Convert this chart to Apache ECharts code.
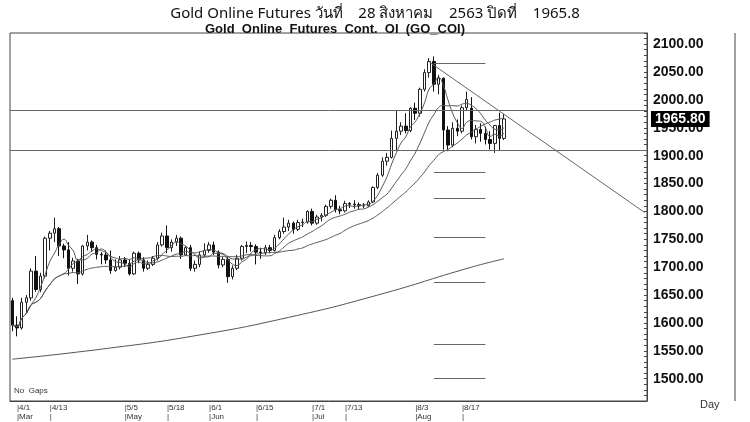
<!DOCTYPE html>
<html>
<head>
<meta charset="utf-8">
<script src="https://cdn.jsdelivr.net/npm/echarts@6/dist/echarts.min.js"></script>
<style>html,body{margin:0;padding:0;background:#fff}#chart{width:750px;height:422px}</style>
</head>
<body>
<div id="chart"></div>
<script>
// วันซื้อขาย และราคา OHLC (อ่านจากภาพ)
const dates = ['3/31','4/1','4/2','4/3','4/6','4/7','4/8','4/9','4/13','4/14','4/15','4/16','4/17','4/20','4/21','4/22','4/23','4/24','4/27','4/28','4/29','4/30',
  '5/1','5/4','5/5','5/6','5/7','5/8','5/11','5/12','5/13','5/14','5/15','5/18','5/19','5/20','5/21','5/22','5/26','5/27','5/28','5/29',
  '6/1','6/2','6/3','6/4','6/5','6/8','6/9','6/10','6/11','6/12','6/15','6/16','6/17','6/18','6/19','6/22','6/23','6/24','6/25','6/26','6/29','6/30',
  '7/1','7/2','7/6','7/7','7/8','7/9','7/10','7/13','7/14','7/15','7/16','7/17','7/20','7/21','7/22','7/23','7/24','7/27','7/28','7/29','7/30','7/31',
  '8/3','8/4','8/5','8/6','8/7','8/10','8/11','8/12','8/13','8/14','8/17','8/18','8/19','8/20','8/21','8/24','8/25','8/26','8/27','8/28'];
const opens = [1640,1596,1591,1637,1645,1693,1660,1684,1752,1761,1769,1738,1731,1698,1711,1688,1738,1745,1735,1723,1722,1713,
  1694,1700,1713,1707,1688,1725,1713,1698,1705,1716,1740,1756,1735,1745,1752,1722,1735,1698,1705,1722,
  1730,1740,1727,1704,1714,1683,1698,1716,1737,1739,1737,1727,1726,1735,1730,1753,1764,1772,1779,1768,1780,1781,
  1800,1779,1790,1793,1809,1820,1803,1801,1814,1813,1812,1810,1810,1817,1843,1865,1890,1897,1931,1944,1953,1945,
  1985,1976,2019,2049,2069,2028,2039,1946,1919,1949,1944,1986,1985,1934,1947,1940,1929,1922,1954,1931];
const closes = [1596,1591,1637,1645,1693,1660,1684,1752,1761,1769,1738,1731,1698,1711,1688,1738,1745,1735,1723,1722,1713,1694,
  1700,1713,1707,1688,1725,1713,1698,1705,1716,1740,1756,1735,1745,1752,1722,1735,1698,1705,1722,1730,
  1740,1727,1704,1714,1683,1698,1716,1737,1739,1737,1727,1726,1735,1730,1753,1764,1772,1779,1768,1780,1781,1800,
  1779,1790,1793,1809,1820,1803,1801,1814,1813,1812,1810,1810,1817,1843,1865,1890,1897,1931,1944,1953,1945,1985,
  1976,2019,2049,2069,2028,2039,1946,1919,1949,1944,1986,2001,1934,1947,1940,1929,1922,1954,1931,1965.8];
const lows = [1585,1576,1588,1617,1640,1656,1655,1680,1730,1745,1720,1716,1685,1692,1670,1685,1730,1728,1714,1705,1706,1688,
  1692,1696,1700,1685,1686,1707,1692,1695,1702,1712,1737,1725,1728,1738,1715,1720,1693,1692,1700,1718,
  1726,1722,1698,1700,1672,1678,1695,1712,1725,1728,1705,1715,1722,1725,1728,1750,1760,1765,1760,1765,1772,1778,
  1775,1776,1782,1790,1805,1798,1795,1798,1806,1805,1804,1806,1808,1815,1840,1862,1882,1895,1910,1937,1940,1942,
  1964,1970,2015,2040,2015,2010,1911,1908,1915,1935,1940,1980,1929,1922,1925,1920,1911,1905,1910,1928];
const highs = [1645,1612,1645,1650,1698,1720,1690,1755,1765,1789,1772,1742,1745,1717,1715,1740,1758,1748,1740,1727,1730,1730,
  1714,1720,1718,1714,1728,1728,1718,1712,1720,1745,1762,1775,1750,1758,1755,1738,1740,1712,1728,1743,
  1745,1746,1730,1718,1718,1703,1722,1740,1746,1745,1741,1735,1740,1740,1758,1768,1789,1785,1782,1785,1787,1802,
  1805,1794,1797,1812,1823,1829,1810,1819,1817,1820,1816,1815,1820,1845,1869,1897,1905,1945,1980,1960,1976,1987,
  1995,2022,2055,2075,2078,2045,2040,1953,1960,1965,1990,2015,2005,1955,1958,1952,1944,1955,1977,1975];
// เส้นค่าเฉลี่ย 200 วัน (อ่านเป็นจุดห่าง ๆ: วันที่ -> ค่า)
const ma200Dates = ['3/31','4/28','5/27','6/24','7/22','8/19','8/28'];
const ma200Vals = [1535, 1553, 1577, 1610, 1650, 1700, 1715];
// เส้นแนวนอนและระดับ retracement
const hLines = [1982, 1910];
const fibLevels = [2066, 1871, 1824, 1754, 1673, 1561, 1501];
const lastPrice = 1965.8;

const TOTAL = 136;
const cats = dates.concat(Array(TOTAL - dates.length).fill(''));
const candle = dates.map((d, i) => [opens[i], closes[i], lows[i], highs[i]]);
function ma(n) {
  return closes.map((c, i) => {
    const s = closes.slice(Math.max(0, i - n + 1), i + 1);
    return +(s.reduce((a, b) => a + b, 0) / s.length).toFixed(2);
  });
}
const ma200 = dates.map(d => {
  const k = ma200Dates.indexOf(d);
  return k >= 0 ? ma200Vals[k] : null;
});
const tickDates = {'4/1':'Mar','4/13':'','5/5':'May','5/18':'','6/1':'Jun','6/15':'','7/1':'Jul','7/13':'','8/3':'Aug','8/17':''};
const iPeak = dates.indexOf('8/6'), iF0 = dates.indexOf('8/7'), iF1 = dates.indexOf('8/24');

const lineS = (data, extra) => Object.assign({type: 'line', data, symbol: 'none', smooth: true,
  lineStyle: {color: '#555', width: 1}, silent: true}, extra || {});

const option = {
  backgroundColor: '#fff',
  animation: false,
  title: [
    {text: 'Gold Online Futures วันที่    28 สิงหาคม    2563 ปิดที่    1965.8', left: 'center', top: 1,
     textStyle: {fontFamily: 'Noto Sans', fontSize: 15, fontWeight: 'normal', color: '#111'}},
    {text: 'Gold  Online  Futures  Cont.  OI  (GO_COI)', left: 330, top: 18, textAlign: 'center',
     textStyle: {fontFamily: 'Liberation Sans', fontSize: 13, fontWeight: 'bold', color: '#111'}}
  ],
  grid: {left: 10, right: 103, top: 33, bottom: 21, show: true, borderColor: '#444', borderWidth: 1},
  xAxis: {
    type: 'category', data: cats, boundaryGap: true,
    axisLine: {lineStyle: {color: '#444'}},
    axisTick: {show: false},
    axisLabel: {
      interval: 0, margin: 2, align: 'left',
      formatter: v => tickDates[v] !== undefined ? '|' + v + '\n|' + tickDates[v] : '',
      fontSize: 8, lineHeight: 9, color: '#333', fontFamily: 'Liberation Sans'
    }
  },
  yAxis: {
    type: 'value', position: 'right', min: 1460, max: 2120, interval: 10,
    splitLine: {show: false},
    axisLine: {show: true, lineStyle: {color: '#444'}},
    axisTick: {show: true, length: 3, inside: true, lineStyle: {color: '#444'}},
    axisLabel: {
      formatter: v => v % 50 === 0 ? v.toFixed(2) : '',
      fontSize: 14, fontWeight: 'bold', color: '#111', fontFamily: 'Liberation Sans', margin: 6
    }
  },
  series: [
    {
      type: 'candlestick', data: candle, barWidth: 3,
      itemStyle: {color: '#fff', color0: '#111', borderColor: '#222', borderColor0: '#111', borderWidth: 1},
      markLine: {
        silent: true, symbol: 'none', animation: false,
        lineStyle: {color: '#666', width: 1, type: 'solid'},
        label: {show: false},
        data: hLines.map(v => ({yAxis: v})).concat(
          fibLevels.map(v => [{coord: [iF0, v]}, {coord: [iF1, v]}]),
          [[{coord: [iPeak, 2068]}, {coord: [TOTAL - 1, 1798]}]]
        )
      }
    },
    lineS(ma(5)),
    lineS(ma(12)),
    lineS(ma(25)),
    lineS(ma200, {connectNulls: true}),
    {
      type: 'line', data: [], silent: true,
      markLine: {
        silent: true, symbol: 'none', animation: false,
        lineStyle: {color: 'rgba(0,0,0,0)', width: 1},
        label: {show: true, position: 'end', formatter: '1965.80', backgroundColor: '#000', color: '#fff',
          fontSize: 14, fontWeight: 'bold', fontFamily: 'Liberation Sans', padding: [1, 4], distance: 4},
        data: [{yAxis: lastPrice}]
      }
    }
  ],
  graphic: [
    {type: 'text', left: 14, top: 387, style: {text: 'No  Gaps', fontSize: 8, fill: '#333', fontFamily: 'Liberation Sans'}},
    {type: 'text', left: 700, top: 399, style: {text: 'Day', fontSize: 11, fill: '#333', fontFamily: 'Liberation Sans'}},
    {type: 'line', shape: {x1: 735, y1: 33, x2: 735, y2: 401}, style: {stroke: '#444', lineWidth: 1}}
  ]
};
const chart = echarts.init(document.getElementById('chart'));
chart.setOption(option);
</script>
</body>
</html>
